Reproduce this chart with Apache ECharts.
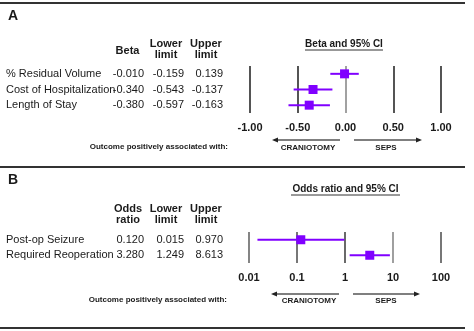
<!DOCTYPE html>
<html><head><meta charset="utf-8">
<script src="https://cdn.jsdelivr.net/npm/echarts@6/dist/echarts.min.js"></script>
<style>html,body{margin:0;padding:0;background:#fff}#c{width:474px;height:331px}</style>
</head><body><div id="c"></div>
<script>
const catA = ['% Residual Volume', 'Cost of Hospitalization', 'Length of Stay'];
const betaA = [-0.010, -0.340, -0.380];
const lowA = [-0.159, -0.543, -0.597];
const upA = [0.139, -0.137, -0.163];
const ticksA = [-1, -0.5, 0, 0.5, 1];

const catB = ['Post-op Seizure', 'Required Reoperation'];
const orB = [0.120, 3.280];
const lowB = [0.015, 1.249];
const upB = [0.970, 8.613];
const ticksB = [0.01, 0.1, 1, 10, 100];

const FONT = '"Liberation Sans", Arial, sans-serif';
const PURPLE = '#8000ff';
const chart = echarts.init(document.getElementById('c'), null, {renderer: 'canvas'});

function tableLabel(vals) {
  return function (name, idx) {
    return '{n|' + name + '}{a|' + vals[0][idx].toFixed(3) + '}{b|' + vals[1][idx].toFixed(3) + '}{c|' + vals[2][idx].toFixed(3) + '}';
  };
}
const richTbl = {
  n: {width: 104, align: 'left', fontSize: 11, fontFamily: FONT, color: '#1a1a1a'},
  a: {width: 34, align: 'right', fontSize: 11, fontFamily: FONT, color: '#1a1a1a'},
  b: {width: 40, align: 'right', fontSize: 11, fontFamily: FONT, color: '#1a1a1a'},
  c: {width: 39, align: 'right', fontSize: 11, fontFamily: FONT, color: '#1a1a1a'}
};

function ciRender(lo, hi) {
  return function (params, api) {
    const i = params.dataIndex;
    const p1 = api.coord([lo[i], i]);
    const p2 = api.coord([hi[i], i]);
    return {type: 'line', shape: {x1: p1[0], y1: p1[1], x2: p2[0], y2: p2[1]},
      style: {stroke: PURPLE, lineWidth: 2}};
  };
}

function arrow(x1, x2, y) {
  const dir = x2 > x1 ? 1 : -1;
  return {type: 'group', children: [
    {type: 'line', shape: {x1: x1, y1: y, x2: x2 - dir * 5, y2: y}, style: {stroke: '#555', lineWidth: 1.5}},
    {type: 'polygon', shape: {points: [[x2, y], [x2 - dir * 6, y - 2.5], [x2 - dir * 6, y + 2.5]]}, style: {fill: '#222'}}
  ]};
}
function txt(x, y, text, size, bold, align, lh) {
  return {type: 'text', x: x, y: y, style: {text: text, fontSize: size, fontWeight: bold ? 'bold' : 'normal',
    fontFamily: FONT, fill: '#1a1a1a', align: align || 'center', verticalAlign: 'middle', lineHeight: lh || size}};
}

const option = {
  animation: false,
  backgroundColor: '#fff',
  grid: [
    {left: 250, width: 191, top: 66, height: 47},
    {left: 249, width: 192, top: 232, height: 31}
  ],
  xAxis: [
    {gridIndex: 0, type: 'value', min: -1, max: 1, interval: 0.5,
      axisLine: {show: false}, axisTick: {show: false},
      splitLine: {show: true, lineStyle: {color: ['#2a2a2a', '#2a2a2a', '#8a8a8a', '#2a2a2a', '#2a2a2a'], width: 1.6}},
      axisLabel: {margin: 9, fontSize: 11, fontWeight: 'bold', fontFamily: FONT, color: '#1a1a1a',
        formatter: v => v.toFixed(2)}},
    {gridIndex: 1, type: 'log', logBase: 10, min: 0.01, max: 100,
      axisLine: {show: false}, axisTick: {show: false}, minorTick: {show: false},
      splitLine: {show: true, lineStyle: {color: ['#666', '#555', '#444', '#888', '#555'], width: 1.6}},
      axisLabel: {margin: 9, fontSize: 11, fontWeight: 'bold', fontFamily: FONT, color: '#1a1a1a',
        formatter: v => String(parseFloat(Number(v).toPrecision(2)))}}
  ],
  yAxis: [
    {gridIndex: 0, type: 'category', data: catA, inverse: true,
      axisLine: {show: false}, axisTick: {show: false}, splitLine: {show: false},
      axisLabel: {interval: 0, hideOverlap: false, margin: 27, formatter: tableLabel([betaA, lowA, upA]), rich: richTbl}},
    {gridIndex: 1, type: 'category', data: catB, inverse: true,
      axisLine: {show: false}, axisTick: {show: false}, splitLine: {show: false},
      axisLabel: {interval: 0, hideOverlap: false, margin: 26, formatter: tableLabel([orB, lowB, upB]), rich: richTbl}}
  ],
  series: [
    {type: 'custom', xAxisIndex: 0, yAxisIndex: 0, renderItem: ciRender(lowA, upA),
      data: betaA.map((v, i) => [v, i]), z: 2},
    {type: 'scatter', xAxisIndex: 0, yAxisIndex: 0, symbol: 'rect', symbolSize: 9,
      itemStyle: {color: PURPLE, opacity: 1}, data: betaA.map((v, i) => [v, i]), z: 3},
    {type: 'custom', xAxisIndex: 1, yAxisIndex: 1, renderItem: ciRender(lowB, upB),
      data: orB.map((v, i) => [v, i]), z: 2},
    {type: 'scatter', xAxisIndex: 1, yAxisIndex: 1, symbol: 'rect', symbolSize: 9,
      itemStyle: {color: PURPLE, opacity: 1}, data: orB.map((v, i) => [v, i]), z: 3}
  ],
  graphic: [
    {type: 'line', shape: {x1: 0, y1: 3, x2: 465, y2: 3}, style: {stroke: '#333', lineWidth: 2}},
    {type: 'line', shape: {x1: 0, y1: 167, x2: 465, y2: 167}, style: {stroke: '#333', lineWidth: 2}},
    {type: 'line', shape: {x1: 0, y1: 328, x2: 465, y2: 328}, style: {stroke: '#333', lineWidth: 2}},
    txt(13, 16, 'A', 14, true),
    txt(13, 180, 'B', 14, true),
    txt(127.5, 51, 'Beta', 11, true),
    txt(166, 49.5, 'Lower\nlimit', 11, true, 'center', 11.5),
    txt(206, 49.5, 'Upper\nlimit', 11, true, 'center', 11.5),
    txt(128, 214.5, 'Odds\nratio', 11, true, 'center', 11.5),
    txt(166, 214.5, 'Lower\nlimit', 11, true, 'center', 11.5),
    txt(206, 214.5, 'Upper\nlimit', 11, true, 'center', 11.5),
    txt(344, 44, 'Beta and 95% CI', 10, true),
    {type: 'line', shape: {x1: 305, y1: 50, x2: 383, y2: 50}, style: {stroke: '#333', lineWidth: 1}},
    txt(345.5, 189, 'Odds ratio and 95% CI', 10, true),
    {type: 'line', shape: {x1: 291, y1: 195, x2: 400, y2: 195}, style: {stroke: '#333', lineWidth: 1}},
    txt(228, 147, 'Outcome positively associated with:', 8, true, 'right'),
    txt(227, 300, 'Outcome positively associated with:', 8, true, 'right'),
    arrow(340, 272, 140), arrow(354, 422, 140),
    txt(308, 147.5, 'CRANIOTOMY', 8, true), txt(386, 147.5, 'SEPS', 8, true),
    arrow(339, 271, 294), arrow(353, 420, 294),
    txt(309, 300.5, 'CRANIOTOMY', 8, true), txt(386, 300.5, 'SEPS', 8, true)
  ]
};
chart.setOption(option);
</script></body></html>
